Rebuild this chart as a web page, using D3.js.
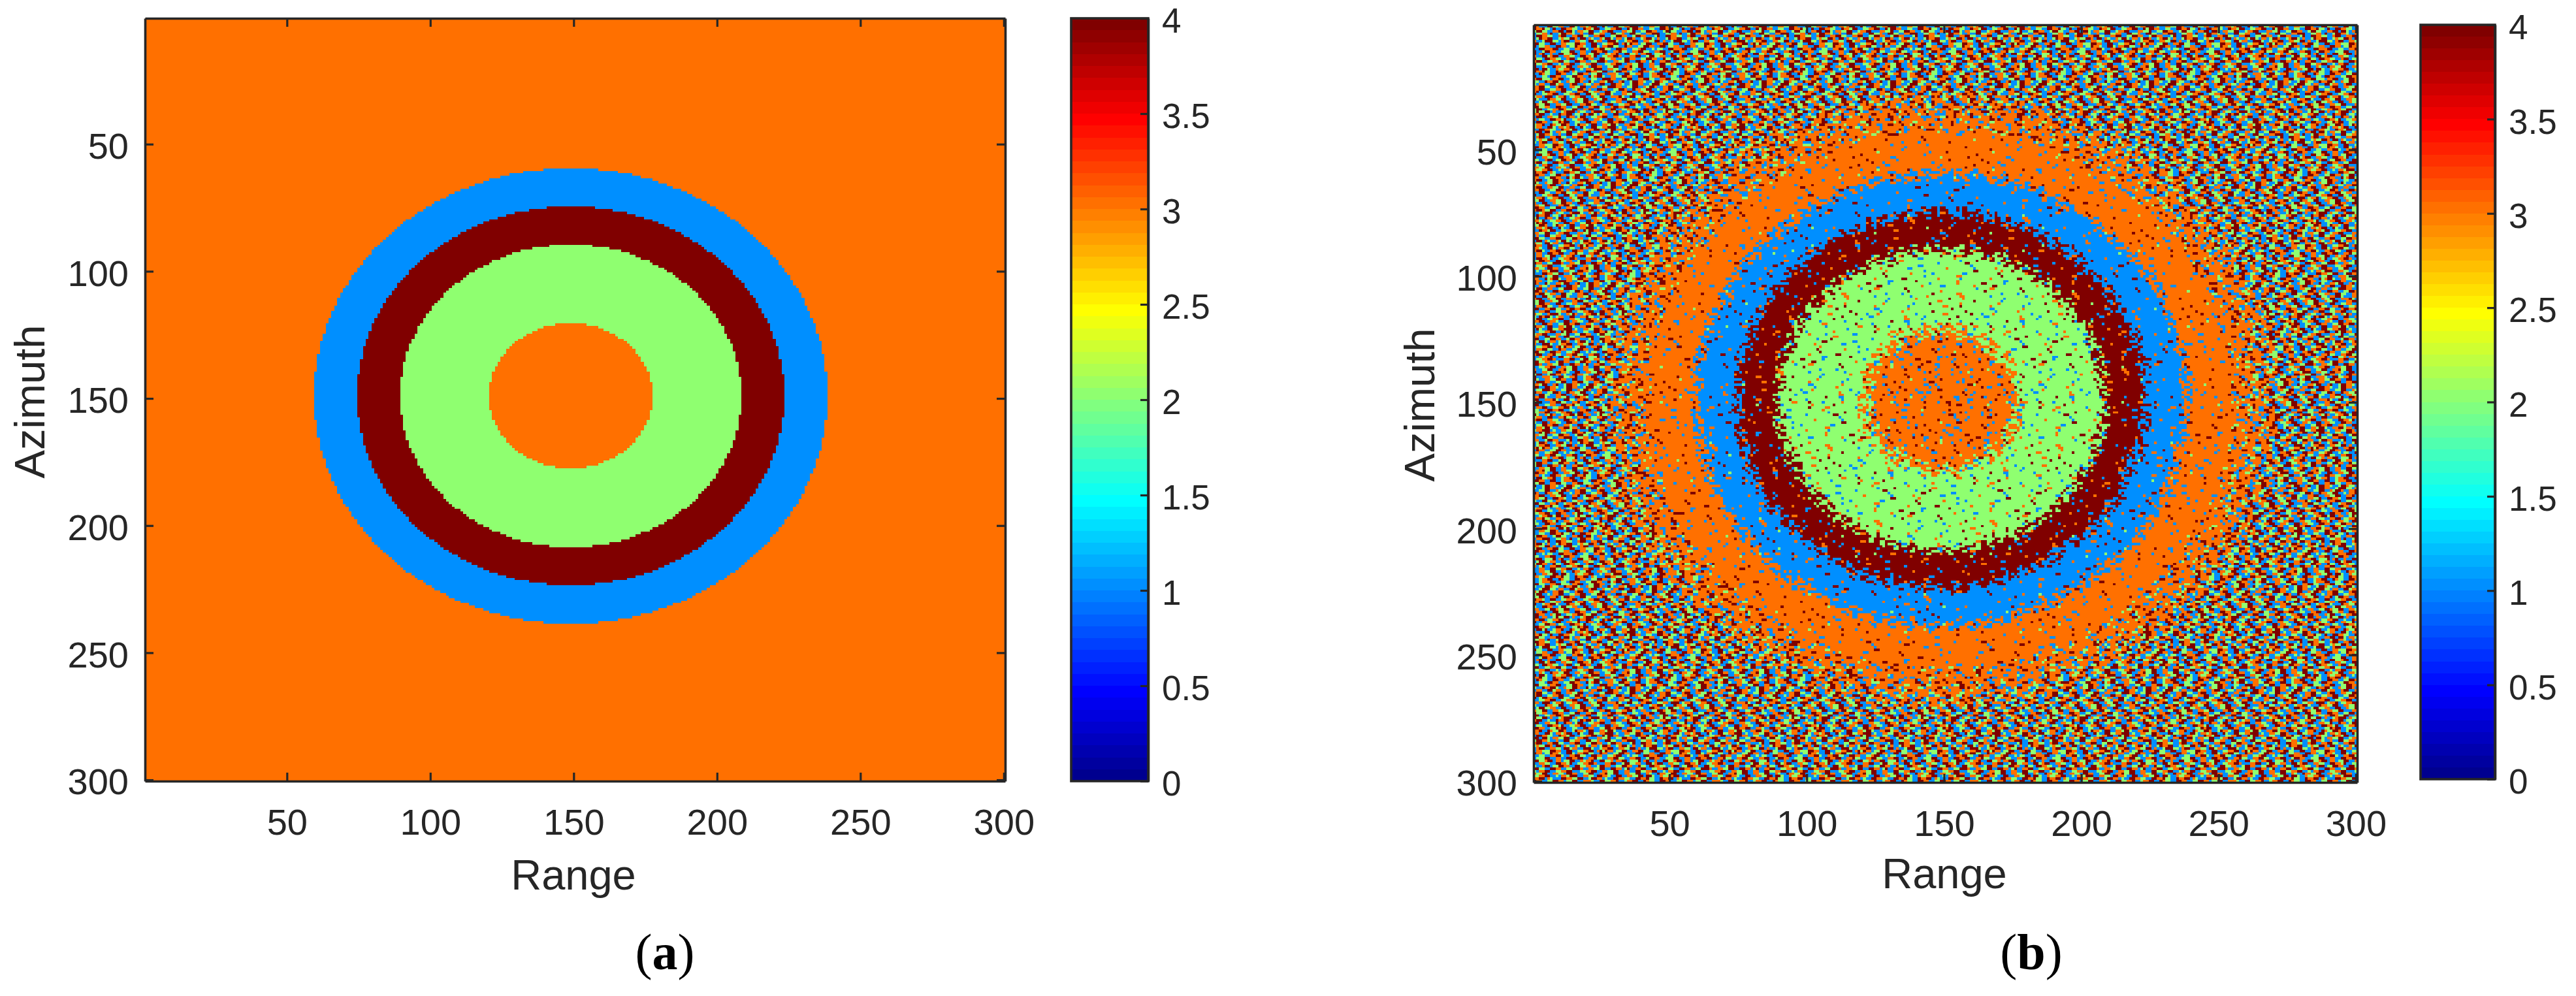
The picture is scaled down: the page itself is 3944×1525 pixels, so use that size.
<!DOCTYPE html>
<html>
<head>
<meta charset="utf-8">
<script src="https://cdn.jsdelivr.net/npm/d3@7"></script>
<style>
  body { margin: 0; background: #fff; }
  text { font-family: "Liberation Sans", sans-serif; fill: #262626; }
</style>
</head>
<body>
<script>
// tick labels
var rangeTicks = [50, 100, 150, 200, 250, 300];
var azimuthTicks = [50, 100, 150, 200, 250, 300];
var colorTicks = [0, 0.5, 1, 1.5, 2, 2.5, 3, 3.5, 4];
var colorTickLabels = ["0", "0.5", "1", "1.5", "2", "2.5", "3", "3.5", "4"];

// rings, inside to outside, the class outside them is 3
var ringCenter = 149;
var ringRadius = [28.5, 59.5, 74.5, 89.5];
var ringClass = [3, 2, 4, 1];
var outsideClass = 3;
var classes = [1, 2, 3, 4];

// panel (b): the orange band fades out here, past it everything is clutter
var clutterRadius = [106, 112, 117, 122];
var ringSpeckLayers = [2, 1, 1, 1];
var ringEdgeBlur = [2.6, 1.6, 1.6, 1.6];

// hand typed samples estimated from crops of panel (b), NOT a cell accurate copy.
// they get repeated over the image
var clutterSample = [
"33144241123341143224431124332144113324421133442",
"41124433211244322114334421132244311421133244113",
"44213312443112344213112433441123224431441321132",
"12233441132244113334211442213344112233144412334",
"31144223441331224411323341144223133441222413411",
"24413311242244131123444132211344421132431123344",
"43321144113322441442113223344112133244411332214",
"11442233444121133224431114422331144213323441142",
"34411322133441144332112443311244422133114423311",
"22134411332214423311444211233441133224413112444",
"41123344211143322441133224411322441113344221133",
"13344112442233114423441133221144332411223344311",
"44212331144113342211334412233441121143344122143",
"32111443322441124433121144332211443342211433441",
"11443322114332441122334411424433112211443342214",
"24431133442211344113322441133112244433112244113",
"43312244113344221144113322244331144112233441342",
"31144112233114433422114433112442233114411322443",
"12244331144223311244331122443311422144332211344",
"44113322411433124411223344113322114433241133221",
"23344114322114433112244331224411333211442233411",
"41122443311244221133441442133224411233441113322",
"14433112244311433224411213344112233441122443131",
"33211442133442211433112244331144122331144331224",
"22441133224411133442211334411223344211331122443",
"41133441122334422114433112244431133224411443312",
"13322114433112244331221144332411223344113321144",
"44211332244331144112333441122144331122443311423",
"31144223311442231144221133444112233141124433211",
"24433114422113344223311442211334411332244113341",
"12211443334411221133442113344221144331122344112",
"43344112211334411442233114433112244113344221134",
"11223344113322441133114422334411213344112233441",
"34411221144331122443344113321144332211443311224",
"22133441122443311221144433112244113344221133442",
"41144332211344113344221133441122443311244331112",
"13322411443321144112233441122334411442213344211",
"44113342211334422113344112443311222441133114433",
"32244113344112233441122334411443311324411223344",
"11433224411332214433112244113342244113322441132"
];

var speckSample = [
".....33....4....1......3...........1.....2",
"..1.........3........44......1............",
".......4.........11...........3......1....",
"...3.......1..........11...........4......",
"..........33....4..........3...........1..",
".1....4..............1.........44.........",
"......1.....3...........33.........1......",
"...........2........1..........3.......4..",
"..44..............3......11..........3....",
".......33....1.........4.........1........",
".............4.............1...........33.",
"....11..........3.....2.........4.........",
"..........1...........44.........11.......",
"..3..............1.........3...........4..",
".......4.....33.........1.........3.......",
"...............1....33.........4..........",
"....1.....2..........4....11.........1....",
".........3.......1..........3.........44..",
"..4...........4..........1.......3........",
"......11............3.........1.......3...",
"............33...........4.........1......",
"..3.....1.........11...........3..........",
".........4...........3.....2.........4....",
"....1..........33..........4.....1........",
"..........11........4..............3......",
".3.............1.........33........4...1..",
".......44........3.............1..........",
"...2.......3..........1.....4..........3..",
"..........1.....4.............33..........",
"....33..............1.....1..........4...."
];

// MATLAB jet with 64 steps
var jetLevels = d3.range(1, 65);

function clampUnit(v) {
    return Math.max(0, Math.min(1, v));
}

var jetColors = jetLevels.map(function (k) {
    var t = k / 64;
    return d3.rgb(
        Math.round(255 * clampUnit(Math.min(4 * t - 1.5, -4 * t + 4.5))),
        Math.round(255 * clampUnit(Math.min(4 * t - 0.5, -4 * t + 3.5))),
        Math.round(255 * clampUnit(Math.min(4 * t + 0.5, -4 * t + 2.5)))
    ).formatHex();
});

var colorScale = d3.scaleQuantize().domain([0, 4]).range(jetColors);

// skip through the sample rows so the repeats dont show up as diagonal stripes
function sample(tile, row, col) {
    var line = tile[(row * 7) % tile.length];
    return line[(col + row * 19) % line.length];
}

function ringIndex(r) {
    for (var i = 0; i < ringRadius.length; i++) {
        if (r <= ringRadius[i]) return i;
    }
    return -1;
}

function cleanCell(row, col) {
    var i = ringIndex(Math.hypot(col - ringCenter, row - ringCenter));
    return i < 0 ? outsideClass : ringClass[i];
}

function noisyCell(row, col) {
    var w = +sample(clutterSample, row + 11, col + 23);
    var r = Math.hypot(col - ringCenter, row - ringCenter);
    if (r > clutterRadius[w - 1]) return +sample(clutterSample, row, col);
    var base = ringIndex(r);
    var blur = base < 0 ? ringEdgeBlur[3] : ringEdgeBlur[base];
    var i = ringIndex(r + (w - 2.5) * blur);
    var k = i < 0 ? outsideClass : ringClass[i];
    var layers = i < 0 ? 1 : ringSpeckLayers[i];
    for (var n = 0; n < layers; n++) {
        var s = sample(speckSample, row + n * 13, col + n * 7);
        if (s !== ".") return +s;
    }
    return k;
}

var svg = d3.select("body").append("svg")
    .attr("width", 3944)
    .attr("height", 1525);

function styleAxis(g, size) {
    g.attr("font-size", size);
    g.selectAll("path.domain").attr("stroke", "#262626").attr("stroke-width", 3.6);
    g.selectAll(".tick line").attr("stroke", "#262626").attr("stroke-width", 3.2);
    g.selectAll(".tick text").attr("fill", "#262626").style("font-family", '"Liberation Sans", sans-serif');
}

function drawPanel(p) {
    var x = d3.scaleLinear().domain([0.5, 300.5]).range([p.left, p.right]);
    var y = d3.scaleLinear().domain([0.5, 300.5]).range([p.top, p.bottom]);

    // one path per class, neighbouring cells in a row are merged
    var paths = {};
    classes.forEach(function (c) { paths[c] = []; });
    d3.range(1, 301).forEach(function (row) {
        var start = 1;
        var current = p.cell(row, 1);
        for (var col = 2; col <= 301; col++) {
            var v = col <= 300 ? p.cell(row, col) : null;
            if (v !== current) {
                paths[current].push("M" + x(start - 0.5) + "," + y(row - 0.5) + "H" + x(col - 0.5) + "V" + y(row + 0.5) + "H" + x(start - 0.5) + "Z");
                start = col;
                current = v;
            }
        }
    });

    svg.append("g").selectAll("path")
        .data(classes)
        .enter()
        .append("path")
        .attr("d", function (c) { return paths[c].join(""); })
        .attr("fill", function (c) { return colorScale(c); })
        .attr("shape-rendering", "crispEdges");

    var sides = [
        [d3.axisBottom(x), p.bottom, null, 42],
        [d3.axisTop(x), p.top, null, 0],
        [d3.axisLeft(y), null, p.left, 25],
        [d3.axisRight(y), null, p.right, 0]
    ];
    sides.forEach(function (s, i) {
        var horizontal = i < 2;
        s[0].tickValues(horizontal ? rangeTicks : azimuthTicks)
            .tickSizeInner(-13)
            .tickSizeOuter(0)
            .tickPadding(s[3]);
        if (i % 2 === 1) s[0].tickFormat("");
        var g = svg.append("g")
            .attr("transform", "translate(" + (s[2] === null ? 0 : s[2]) + "," + (s[1] === null ? 0 : s[1]) + ")")
            .call(s[0]);
        styleAxis(g, 56);
        if (i === 2) g.selectAll(".tick text").attr("dy", "0.39em");
    });

    svg.append("text")
        .attr("x", p.rangeX)
        .attr("y", p.rangeY)
        .attr("text-anchor", "middle")
        .attr("font-size", 65)
        .text("Range");

    svg.append("text")
        .attr("transform", "translate(" + p.azimuthX + "," + p.azimuthY + ") rotate(-90)")
        .attr("text-anchor", "middle")
        .attr("font-size", 65)
        .text("Azimuth");

    // colorbar
    var cy = d3.scaleLinear().domain([0, 4]).range([p.barBottom, p.barTop]);
    svg.append("g").selectAll("rect")
        .data(jetColors)
        .enter()
        .append("rect")
        .attr("x", p.barLeft)
        .attr("y", function (d, i) { return cy((i + 1) / 16); })
        .attr("width", p.barRight - p.barLeft)
        .attr("height", function (d, i) { return cy(i / 16) - cy((i + 1) / 16); })
        .attr("fill", function (d) { return d; })
        .attr("shape-rendering", "crispEdges");

    var barAxis = d3.axisRight(cy)
        .tickValues(colorTicks)
        .tickFormat(function (d, i) { return colorTickLabels[i]; })
        .tickSizeInner(-12)
        .tickSizeOuter(0)
        .tickPadding(21);
    var barG = svg.append("g").attr("transform", "translate(" + p.barRight + ",0)").call(barAxis);
    styleAxis(barG, 53);
    barG.selectAll(".tick text").attr("dy", "0.41em");

    svg.append("rect")
        .attr("x", p.barLeft)
        .attr("y", p.barTop)
        .attr("width", p.barRight - p.barLeft)
        .attr("height", p.barBottom - p.barTop)
        .attr("fill", "none")
        .attr("stroke", "#262626")
        .attr("stroke-width", 3.6);

    // caption, only the letter is bold
    var cap = svg.append("text")
        .attr("x", p.capX)
        .attr("y", 1484)
        .attr("text-anchor", "middle")
        .attr("font-size", 78)
        .style("font-family", '"Liberation Serif", serif')
        .style("fill", "#000");
    cap.append("tspan").text("(");
    cap.append("tspan").attr("font-weight", "bold").text(p.letter);
    cap.append("tspan").text(")");
}

drawPanel({
    cell: cleanCell, letter: "a",
    left: 222, right: 1539, top: 28, bottom: 1196,
    barLeft: 1640, barRight: 1758, barTop: 28, barBottom: 1196,
    rangeX: 878, rangeY: 1362, azimuthX: 68, azimuthY: 615, capX: 1018
});

drawPanel({
    cell: noisyCell, letter: "b",
    left: 2348, right: 3609, top: 38, bottom: 1198,
    barLeft: 3706, barRight: 3820, barTop: 38, barBottom: 1193,
    rangeX: 2977, rangeY: 1360, azimuthX: 2196, azimuthY: 620, capX: 3110
});
</script>
</body>
</html>
